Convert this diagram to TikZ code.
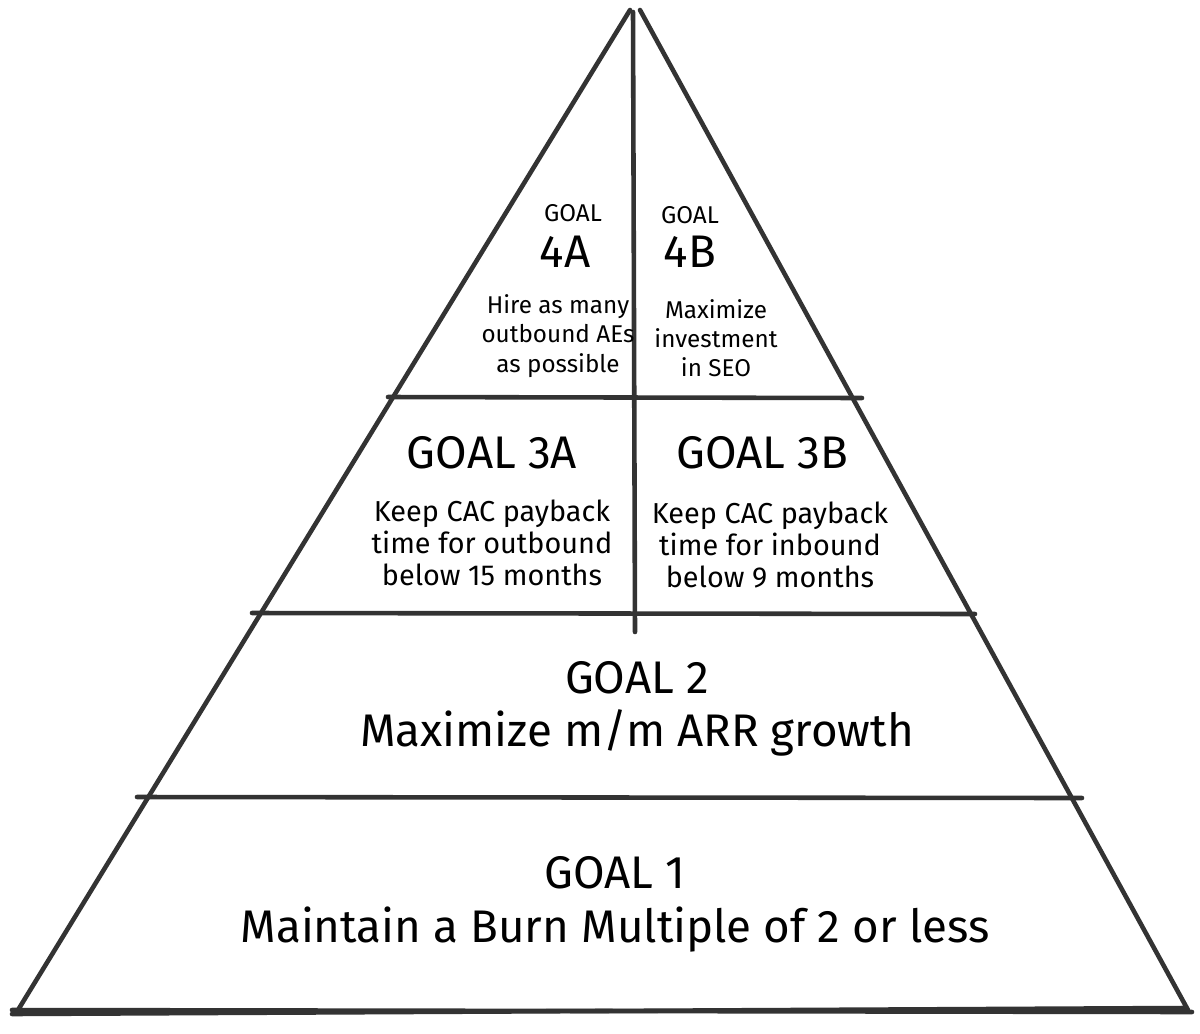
\documentclass[tikz,border=0pt]{standalone}
\usepackage{fontspec}
\setmainfont{Fira Sans}
\usetikzlibrary{positioning}
\tikzset{%
	edge/.style={line width=1.3pt, draw=black!80, line cap=round},
	goal-title/.style={font=\fontsize{13}{15}\selectfont, align=center},
	goal-text/.style={font=\fontsize{13}{17}\selectfont, align=center},
	goal-small/.style={font=\fontsize{6.9}{8.3}\selectfont, align=center},
	goal-mid/.style={font=\fontsize{8.2}{9.1}\selectfont, align=center},
}
\begin{document}
\begin{tikzpicture}[x=0.01cm, y=-0.01cm]
\useasboundingbox (0,0) rectangle (1200,1033);
% outline
\coordinate (apex-l) at (630,10);
\coordinate (apex-r) at (640,10);
\coordinate (base-l) at (18,1010);
\coordinate (base-r) at (1188,1010);
\draw[edge] (apex-l) -- (base-l);
\draw[edge] (apex-r) -- (base-r);
\draw[edge] (12,1010) -- (1192,1012);
\draw[edge] (12,1014) -- (1185,1008);

% dividers
\coordinate (div-top) at (633,12);
\coordinate (div-bot) at (635,632);
\draw[edge] (div-top) -- (div-bot);
\foreach \y/\xa/\xb in {397/388/862, 613/252/975, 797/137/1082}
	\draw[edge] (\xa,\y) -- (\xb,\y+1);

% labels
\node[goal-title] (goal-1) at (615,873) {GOAL 1};
\node[goal-text] (goal-1-text) at (615,930) {Maintain a Burn Multiple of 2 or less};
\node[goal-title] (goal-2) at (637,678) {GOAL 2};
\node[goal-text] (goal-2-text) at (637,733) {Maximize m/m ARR growth};
\node[goal-title] (goal-3a) at (492,453) {GOAL 3A};
\node[goal-mid] (goal-3a-text) at (492,543) {Keep CAC payback\\time for outbound\\below 15 months};
\node[goal-title] (goal-3b) at (762,453) {GOAL 3B};
\node[goal-mid] (goal-3b-text) at (770,545) {Keep CAC payback\\time for inbound\\below 9 months};
\node[goal-small] (goal-4a) at (573,213) {GOAL};
\node[goal-title] (goal-4a-id) at (565,252) {4A};
\node[goal-small] (goal-4a-text) at (558,336) {Hire as many\\outbound AEs\\as possible};
\node[goal-small] (goal-4b) at (690,215) {GOAL};
\node[goal-title] (goal-4b-id) at (690,252) {4B};
\node[goal-small] (goal-4b-text) at (716,338) {Maximize\\investment\\in SEO};
\end{tikzpicture}
\end{document}
